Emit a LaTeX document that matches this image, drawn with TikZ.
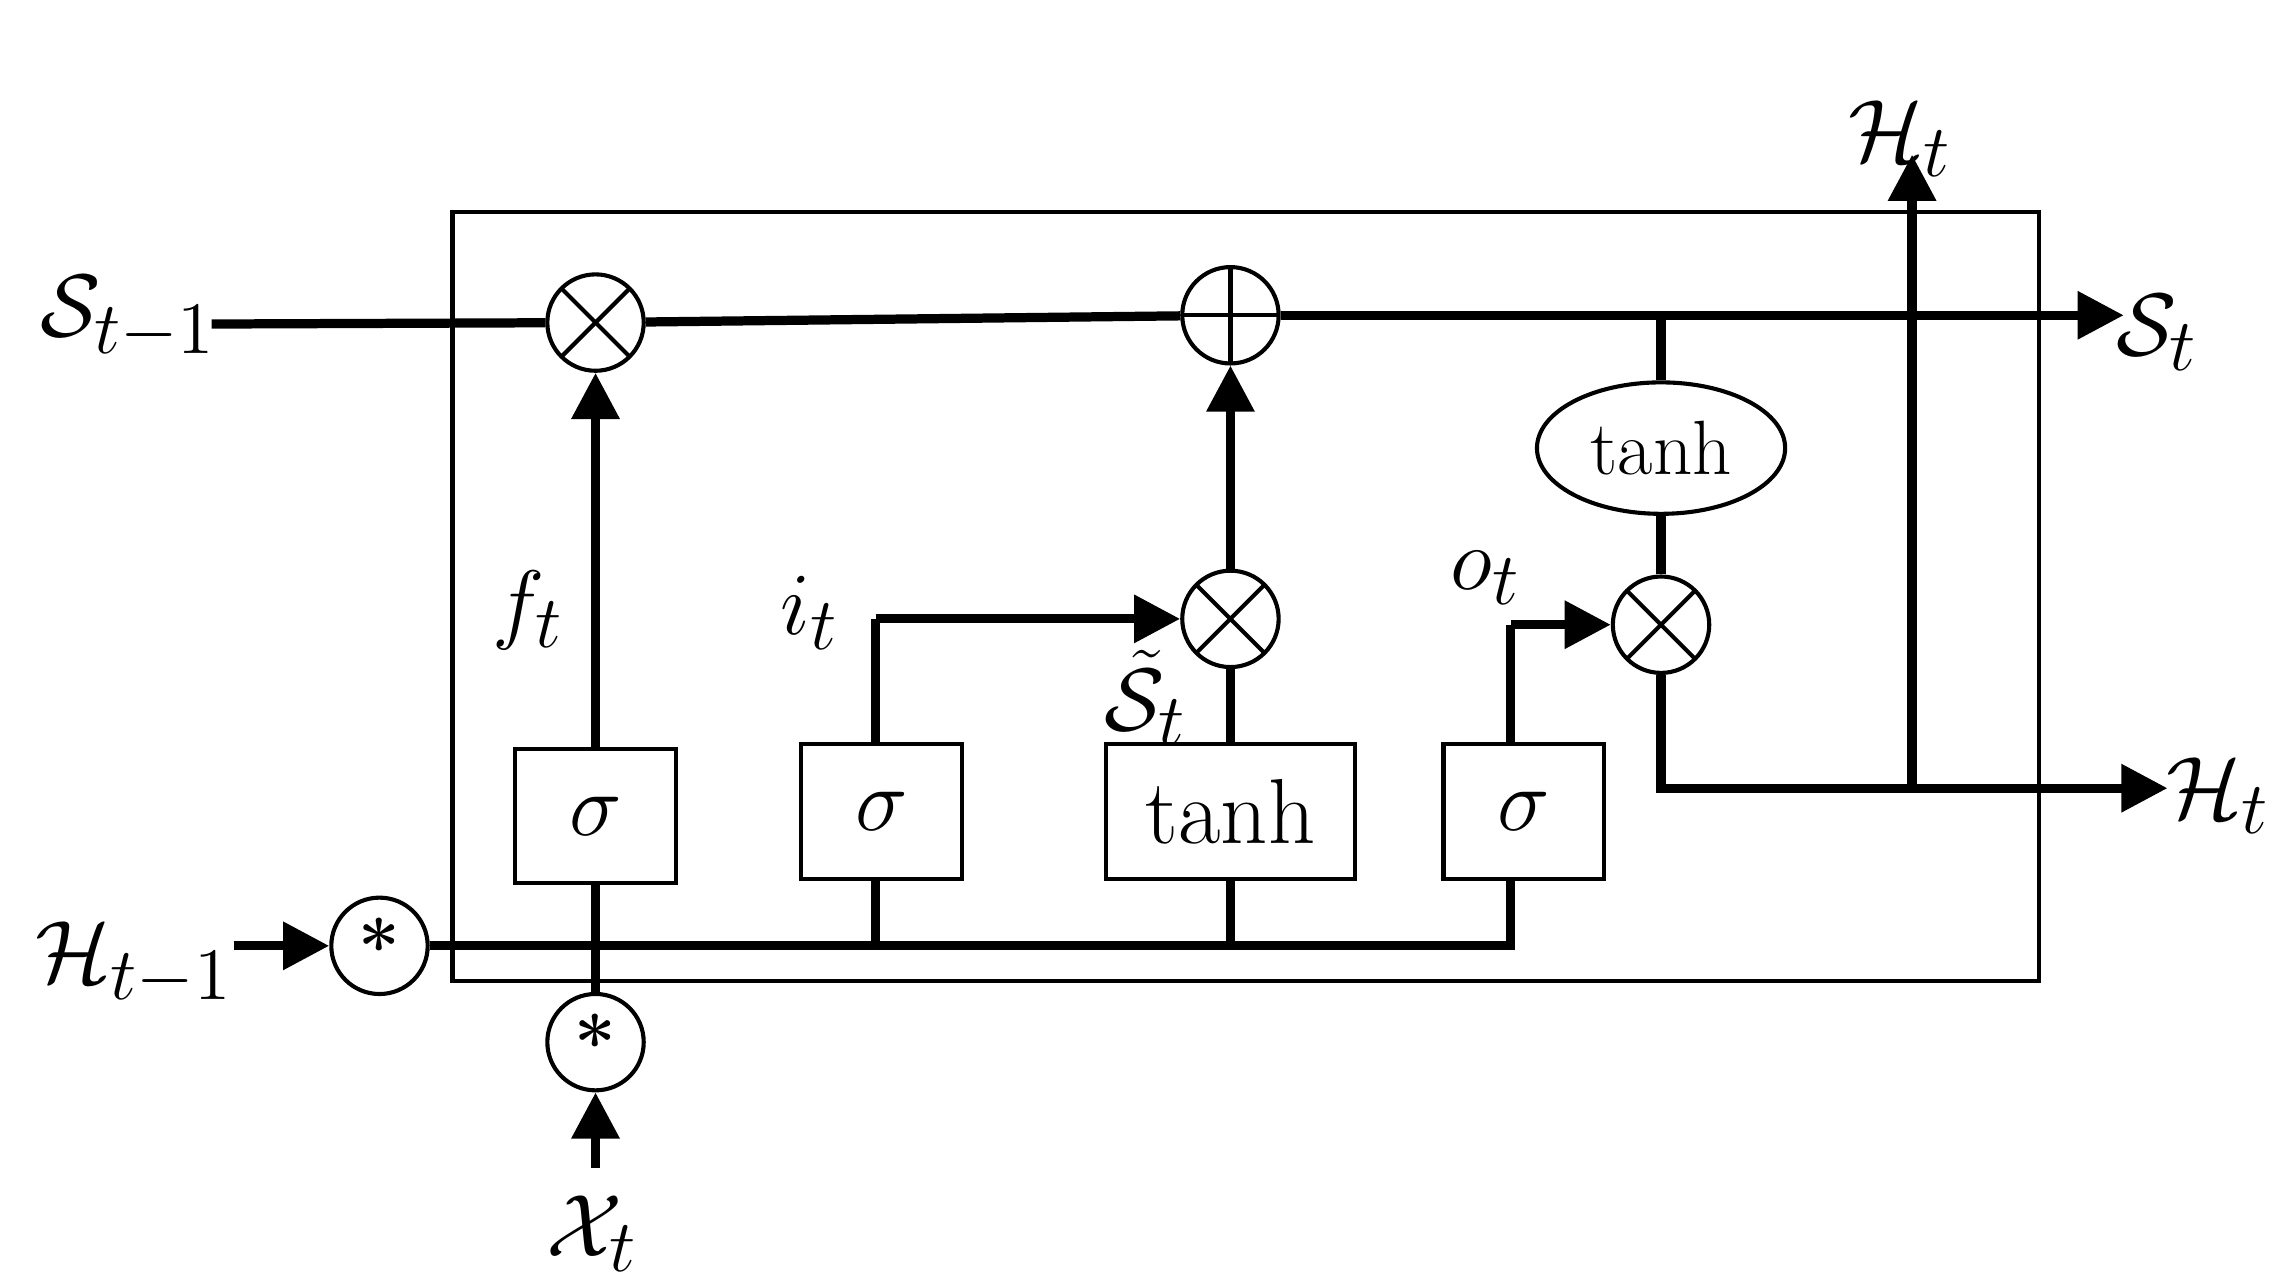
\documentclass[tikz,border=0pt]{standalone}
\usepackage{amsmath}
\usetikzlibrary{arrows.meta,shapes.geometric}
\begin{document}
\begin{tikzpicture}[x=0.01cm,y=-0.01cm,
  flow/.style={line width=1.8pt},
  arr/.style={flow,-{Triangle[length=9pt,width=9pt]}},
  op/.style={draw,circle,line width=0.8pt,minimum size=0.66cm,inner sep=0pt},
  mul/.style={op,path picture={\draw[line width=0.8pt]
      (path picture bounding box.south west)--(path picture bounding box.north east)
      (path picture bounding box.north west)--(path picture bounding box.south east);}},
  add/.style={op,path picture={\draw[line width=0.8pt]
      (path picture bounding box.south)--(path picture bounding box.north)
      (path picture bounding box.west)--(path picture bounding box.east);}},
  gate/.style={draw,line width=0.8pt,minimum width=1.1cm,minimum height=0.92cm,inner sep=0pt,
      font=\fontsize{18}{20}\selectfont},
  lbl/.style={font=\fontsize{19}{22}\selectfont,inner sep=0pt}]
\useasboundingbox (0,0) rectangle (1560,879);
\draw[line width=0.8pt] (310,145) rectangle (1397,672);
% operators
\node[mul] (m1) at (408,221) {};
\node[add] (a1) at (843,216) {};
\node[mul] (m2) at (843,424) {};
\node[mul] (m3) at (1138,428) {};
\node[op,font=\Large\bfseries] (c1) at (260,648) {*};
\node[op,font=\Large\bfseries] (c2) at (408,714) {*};
\node[draw,ellipse,line width=0.8pt,minimum width=1.37cm,minimum height=0.9cm,
  font=\fontsize{15}{18}\selectfont] (th) at (1138,307) {tanh};
% gates
\node[gate] (g1) at (408,559) {$\sigma$};
\node[gate] (g2) at (604,556) {$\sigma$};
\node[gate,minimum width=1.7cm] (g3) at (843,556) {tanh};
\node[gate] (g4) at (1044,556) {$\sigma$};
% labels
\node[lbl] (sin) at (88,218) {$\mathcal{S}_{t-1}$};
\node[lbl] (sout) at (1478,228) {$\mathcal{S}_t$};
\node[lbl] (hin) at (92,660) {$\mathcal{H}_{t-1}$};
\node[lbl] (hout) at (1520,545) {$\mathcal{H}_t$};
\node[lbl] (hup) at (1302,95) {$\mathcal{H}_t$};
\node[lbl] (xin) at (406,845) {$\mathcal{X}_t$};
\node[lbl] at (362,418) {$f_t$};
\node[lbl] at (555,420) {$i_t$};
\node[lbl] at (785,478) {$\tilde{\mathcal{S}}_t$};
\node[lbl] at (1018,396) {$o_t$};
% coordinates
\coordinate (sstart) at (145,222);
\coordinate (send) at (1455,216);
\coordinate (tp) at (1138,216);
\coordinate (hj) at (1310,540);
\coordinate (hend) at (1485,540);
\coordinate (hbeg) at (160,648);
\coordinate (xbeg) at (408,800);
% cell state
\draw[flow] (sstart) -- (m1) -- (a1);
\draw[arr] (a1) -- (send);
\draw[flow] (tp) -- (th.north);
\draw[flow] (th.south) -- (m3.north);
% input line
\draw[arr] (hbeg) -- (c1);
\draw[arr] (xbeg) -- (c2);
\draw[flow] (c1.east) -- (1035,648) -- (g4.south -| 1035,0);
\draw[flow] (g2.south -| 600,0) -- (600,648);
\draw[flow] (g3.south) -- (843,648);
\draw[flow] (g1.south) -- (c2.north);
% gates up
\draw[arr] (g1.north) -- (m1.south);
\draw[flow] (g2.north -| 600,0) -- (600,424);
\draw[arr] (600,424) -- (m2.west);
\draw[flow] (g3.north) -- (m2.south);
\draw[arr] (m2.north) -- (a1.south);
\draw[flow] (g4.north -| 1035,0) -- (1035,428);
\draw[arr] (1035,428) -- (m3.west);
% output
\draw[flow] (m3.south) -- (1138,540) -- (hj);
\draw[arr] (hj) -- (hend);
\draw[arr] (hj) -- (1310,106);
\end{tikzpicture}
\end{document}
